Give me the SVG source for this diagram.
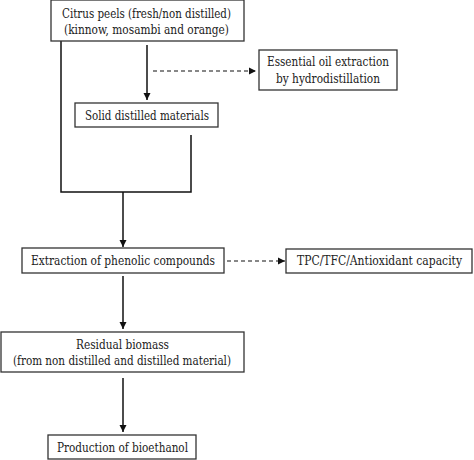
<svg xmlns="http://www.w3.org/2000/svg" width="474" height="460" viewBox="0 0 474 460">
<defs>
<marker id="ah" markerWidth="8" markerHeight="8" refX="7" refY="4" orient="auto" markerUnits="userSpaceOnUse">
<path d="M0,0.5 L7,4 L0,7.5 Z" fill="#111"/>
</marker>
</defs>
<style>
.box{fill:#fff;stroke:#333;stroke-width:1.3}
.ln{fill:none;stroke:#111;stroke-width:1.5}
.ds{fill:none;stroke:#111;stroke-width:1.2;stroke-dasharray:4,3}
.t{font-family:"DejaVu Serif Condensed","DejaVu Serif",serif;font-stretch:condensed;font-size:12.5px;fill:#222;text-anchor:middle}
</style>
<rect width="474" height="460" fill="#fff"/>
<g id="connectors">
<path class="ln" d="M61,41 V192 H191 V135"/>
<path class="ln" d="M123,192 V247" marker-end="url(#ah)"/>
<path class="ln" d="M147,45 V100" marker-end="url(#ah)"/>
<path class="ds" d="M153,71 H256" marker-end="url(#ah)"/>
<path class="ds" d="M227,261 H285" marker-end="url(#ah)"/>
<path class="ln" d="M123,276 V329" marker-end="url(#ah)"/>
<path class="ln" d="M123,378 V432" marker-end="url(#ah)"/>
</g>
<g id="citrus">
<rect class="box" x="51" y="0" width="193" height="41"/>
<text class="t" x="146.5" y="18" textLength="169" lengthAdjust="spacingAndGlyphs">Citrus peels (fresh/non distilled)</text>
<text class="t" x="146.5" y="34" textLength="165" lengthAdjust="spacingAndGlyphs">(kinnow, mosambi and orange)</text>
</g>
<g id="essential">
<rect class="box" x="259" y="50" width="138" height="40"/>
<text class="t" x="328" y="66" textLength="122" lengthAdjust="spacingAndGlyphs">Essential oil extraction</text>
<text class="t" x="328" y="83" textLength="104" lengthAdjust="spacingAndGlyphs">by hydrodistillation</text>
</g>
<g id="solid">
<rect class="box" x="75" y="103" width="143" height="24"/>
<text class="t" x="147" y="120" textLength="124" lengthAdjust="spacingAndGlyphs">Solid distilled materials</text>
</g>
<g id="extraction">
<rect class="box" x="22" y="248" width="202" height="25"/>
<text class="t" x="123" y="265" textLength="184" lengthAdjust="spacingAndGlyphs">Extraction of phenolic compounds</text>
</g>
<g id="tpc">
<rect class="box" x="286" y="249" width="186" height="24"/>
<text class="t" x="379.5" y="265" textLength="165" lengthAdjust="spacingAndGlyphs">TPC/TFC/Antioxidant capacity</text>
</g>
<g id="residual">
<rect class="box" x="1" y="332" width="243" height="40"/>
<text class="t" x="122.5" y="349" textLength="93" lengthAdjust="spacingAndGlyphs">Residual biomass</text>
<text class="t" x="122" y="365" textLength="218" lengthAdjust="spacingAndGlyphs">(from non distilled and distilled material)</text>
</g>
<g id="production">
<rect class="box" x="48" y="435" width="148" height="24"/>
<text class="t" x="122.5" y="452" textLength="131" lengthAdjust="spacingAndGlyphs">Production of bioethanol</text>
</g>
</svg>
